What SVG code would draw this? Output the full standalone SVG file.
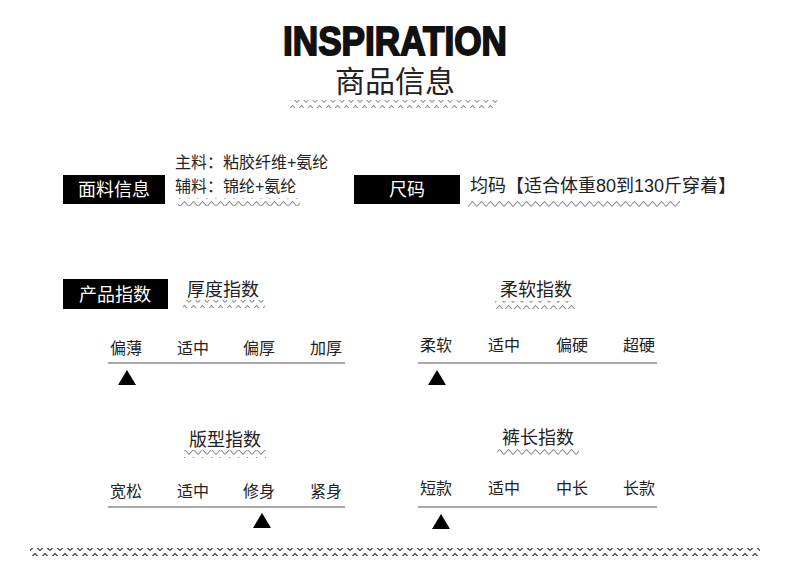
<svg xmlns="http://www.w3.org/2000/svg" width="790" height="568" viewBox="0 0 790 568">
<style>
.cn{font-family:"Liberation Sans","Noto Sans CJK SC",sans-serif;fill:#222}
.bx{fill:#000}
.ln{stroke:#555;stroke-width:1.2}
</style>
<defs>
<pattern id="zz" width="9" height="8" patternUnits="userSpaceOnUse"><path d="M0,6.5 L4.5,1.5 L9,6.5" fill="none" stroke="#888" stroke-width="1.1"/></pattern>
<pattern id="zzd" width="10" height="8" patternUnits="userSpaceOnUse"><path d="M0,6.5 L5,1.5 L10,6.5" fill="none" stroke="#333" stroke-width="1.1"/></pattern>
</defs>
<rect width="790" height="568" fill="#fff"/>
<g id="title">
<text x="395" y="55" text-anchor="middle" font-family="Liberation Sans" font-weight="bold" font-size="40" textLength="224" lengthAdjust="spacingAndGlyphs" fill="#111" stroke="#111" stroke-width="1.8">INSPIRATION</text>
<text x="395" y="92" text-anchor="middle" class="cn" font-size="30">商品信息</text>
<rect x="290" y="100" width="207" height="8" fill="url(#zz)"/>
</g>
<g id="material">
<rect x="63" y="175" width="102" height="29" class="bx"/>
<text x="114" y="196" text-anchor="middle" class="cn" font-size="18" style="fill:#fff">面料信息</text>
<text x="175" y="168" class="cn" font-size="16">主料：粘胶纤维+氨纶</text>
<text x="175" y="192" class="cn" font-size="16">辅料：锦纶+氨纶</text>
<rect x="178" y="198" width="122" height="8" fill="url(#zz)"/>
</g>
<g id="size">
<rect x="354" y="175" width="106" height="29" class="bx"/>
<text x="407" y="196" text-anchor="middle" class="cn" font-size="18" style="fill:#fff">尺码</text>
<text x="470" y="192" class="cn" font-size="18">均码【适合体重80到130斤穿着】</text>
<rect x="468" y="200" width="212" height="8" fill="url(#zz)"/>
</g>
<g id="index">
<rect x="63" y="279" width="105" height="30" class="bx"/>
<text x="115" y="301" text-anchor="middle" class="cn" font-size="18" style="fill:#fff">产品指数</text>
</g>
<g id="thickness">
<text x="187" y="296" class="cn" font-size="18">厚度指数</text>
<rect x="183" y="300" width="82" height="8" fill="url(#zz)"/>
<text x="110" y="354" class="cn" font-size="16">偏薄</text>
<text x="177" y="354" class="cn" font-size="16">适中</text>
<text x="243" y="354" class="cn" font-size="16">偏厚</text>
<text x="310" y="354" class="cn" font-size="16">加厚</text>
<line x1="108" y1="363" x2="345" y2="363" class="ln"/>
<path d="M127,370 L136,385 L118,385 Z" fill="#000"/>
</g>
<g id="softness">
<text x="536" y="296" text-anchor="middle" class="cn" font-size="18">柔软指数</text>
<rect x="495" y="301" width="80" height="8" fill="url(#zz)"/>
<text x="420" y="351" class="cn" font-size="16">柔软</text>
<text x="488" y="351" class="cn" font-size="16">适中</text>
<text x="556" y="351" class="cn" font-size="16">偏硬</text>
<text x="623" y="351" class="cn" font-size="16">超硬</text>
<line x1="418" y1="363" x2="657" y2="363" class="ln"/>
<path d="M437,370 L446,385 L428,385 Z" fill="#000"/>
</g>
<g id="fit">
<text x="225" y="446" text-anchor="middle" class="cn" font-size="18">版型指数</text>
<rect x="184" y="450" width="82" height="8" fill="url(#zz)"/>
<text x="110" y="497" class="cn" font-size="16">宽松</text>
<text x="177" y="497" class="cn" font-size="16">适中</text>
<text x="243" y="497" class="cn" font-size="16">修身</text>
<text x="310" y="497" class="cn" font-size="16">紧身</text>
<line x1="108" y1="507" x2="345" y2="507" class="ln"/>
<path d="M262,513 L271,528 L253,528 Z" fill="#000"/>
</g>
<g id="length">
<text x="538" y="444" text-anchor="middle" class="cn" font-size="18">裤长指数</text>
<rect x="497" y="448" width="82" height="8" fill="url(#zz)"/>
<text x="420" y="494" class="cn" font-size="16">短款</text>
<text x="488" y="494" class="cn" font-size="16">适中</text>
<text x="556" y="494" class="cn" font-size="16">中长</text>
<text x="623" y="494" class="cn" font-size="16">长款</text>
<line x1="418" y1="507" x2="657" y2="507" class="ln"/>
<path d="M441,514 L450,529 L432,529 Z" fill="#000"/>
</g>
<rect x="30" y="548" width="730" height="8" fill="url(#zzd)"/>
</svg>
